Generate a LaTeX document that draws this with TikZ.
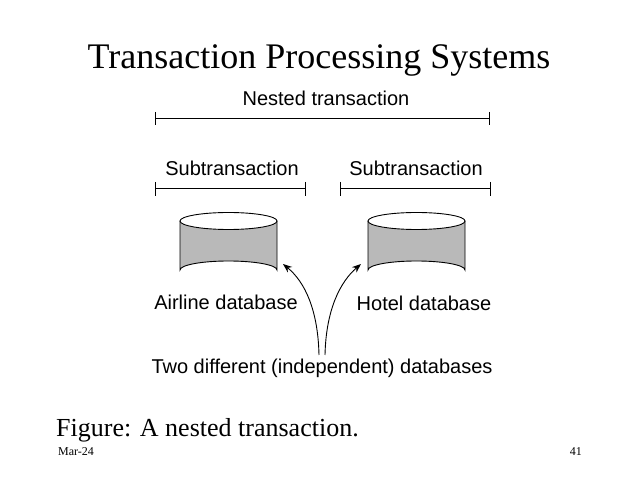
\documentclass[tikz,border=0pt]{standalone}
\usepackage{fontspec}
\setmainfont{Liberation Serif}
\newfontfamily\arial{Liberation Sans}
\usetikzlibrary{arrows.meta}
\begin{document}
\begin{tikzpicture}[x=1pt,y=-1pt,
  lbl/.style={font=\arial\fontsize{20}{22}\selectfont,inner sep=0},
  span/.style={line width=0.9pt},
  db/.style={draw,line width=0.9pt}]
\useasboundingbox (0,0) rectangle (638,478);
\node[font=\fontsize{36}{40}\selectfont,inner sep=0] (title) at (319,60) {Transaction Processing Systems};
\node[lbl] (nt) at (326,98) {Nested transaction};
\draw[span] (155,118) -- (489,118);
\draw[span] (155,112) -- (155,125) (489,112) -- (489,125);
\node[lbl] (s1) at (232,168) {Subtransaction};
\node[lbl] (s2) at (416,168) {Subtransaction};
\draw[span] (155,188) -- (305,188) (155,182) -- (155,196) (305,182) -- (305,196);
\draw[span] (340,188) -- (490,188) (340,182) -- (340,196) (490,182) -- (490,196);
\foreach \cx/\n in {228.5/a,416.5/h}{
  \fill[gray!55] (\cx-48.5,221) -- (\cx-48.5,270) arc[start angle=180,end angle=360,x radius=48.5,y radius=9] -- (\cx+48.5,221) -- cycle;
  \draw[db] (\cx-48.5,221) -- (\cx-48.5,270) arc[start angle=180,end angle=360,x radius=48.5,y radius=9] -- (\cx+48.5,221);
  \draw[db,fill=white] (\cx,221) ellipse[x radius=48.5,y radius=8.5];
  \coordinate (\n) at (\cx,245);
}
\node[lbl] (al) at (226,302) {Airline database};
\node[lbl] (ho) at (424,303) {Hotel database};
\node[lbl] (two) at (322,368) {Two different (independent) databases};
\coordinate (ta) at (283,264);
\coordinate (th) at (361,264);
\draw[line width=0.9pt,-{Stealth[length=9pt,width=7pt]}] (319,355) .. controls (318,310) and (305,282) .. (ta);
\draw[line width=0.9pt,-{Stealth[length=9pt,width=7pt]}] (325,355) .. controls (326,310) and (340,282) .. (th);
\node[font=\fontsize{26}{28}\selectfont,anchor=west,inner sep=0] (cap) at (56,430) {Figure: A nested transaction.};
\node[font=\fontsize{12}{14}\selectfont,anchor=west,inner sep=0] (date) at (58,452) {Mar-24};
\node[font=\fontsize{12}{14}\selectfont,anchor=east,inner sep=0] (pg) at (582,452) {41};
\end{tikzpicture}
\end{document}
